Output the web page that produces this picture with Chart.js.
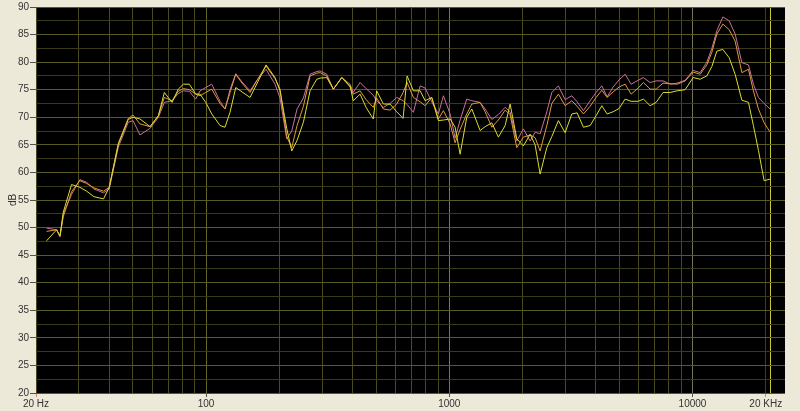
<!DOCTYPE html>
<html lang="en">

<head>
    <meta charset="UTF-8">
    <title>Frequency Response</title>
    <style>
        html, body {
            margin: 0;
            padding: 0;
            background: #ece9d8;
        }
        canvas {
            display: block;
        }
    </style>
    <script src="https://cdn.jsdelivr.net/npm/chart.js"></script>
</head>

<body>
    <canvas id="chart" width="800" height="411"></canvas>
</body>
<script>
    // measurement frequencies (Hz)
    const freqs = [
        22.1, 24.3, 25.1, 25.9, 28.0, 30.3, 32.3, 34.6, 37.9, 40.0,
        43.6, 47.9, 50.1, 53.5, 58.9, 63.7, 67.4, 72.5, 76.9, 80.7,
        85.4, 90.7, 94.5, 99.7, 105.6, 114.2, 119.7, 125.5, 132.5, 140.6,
        151.7, 163.6, 176.5, 192.2, 201.5, 214.6, 225.1, 236.7, 251.4, 267.8,
        285.3, 294.4, 313.6, 333.8, 361.4, 391, 403, 430, 455, 487,
        503, 536, 571, 608, 646, 671, 712, 759, 796, 847,
        902, 946, 1008, 1057, 1108, 1180, 1238, 1339, 1404, 1496,
        1592, 1697, 1779, 1895, 2017, 2150, 2254, 2363, 2518, 2640,
        2810, 2994, 3190, 3354, 3560, 3794, 4016, 4238, 4456, 4716,
        4993, 5284, 5593, 5975, 6283, 6694, 7087, 7571, 8092, 8645,
        9326, 10058, 10748, 11452, 12008, 12590, 13326, 14146, 14972, 15952,
        16984, 17794, 18666, 19698, 20852
    ];

    const yellowDb = [
        47.6, 49.6, 48.5, 52.8, 57.8, 57.3, 56.6, 55.6, 55.2, 57.3,
        65.1, 69.6, 70.0, 69.7, 68.3, 70.3, 74.5, 72.7, 75.1, 76.0,
        76.0, 74.2, 74.2, 72.7, 70.6, 68.5, 68.2, 70.9, 75.4, 74.6,
        73.6, 76.5, 79.5, 77.2, 74.8, 68.0, 63.9, 65.8, 69.1, 74.8,
        76.9, 77.1, 77.2, 75.1, 77.2, 75.7, 73.0, 74.2, 71.8, 69.7,
        74.8, 72.4, 72.4, 71.0, 69.8, 77.5, 74.8, 74.8, 73.0, 73.6,
        69.4, 69.5, 69.7, 68.2, 63.3, 70.0, 71.5, 67.6, 68.3, 69.0,
        66.4, 68.5, 72.4, 66.1, 64.8, 66.9, 65.0, 59.7, 64.5, 66.5,
        69.4, 67.2, 70.6, 70.8, 68.2, 68.5, 70.3, 72.1, 70.6, 71.0,
        71.6, 73.3, 72.9, 72.9, 73.3, 72.1, 72.7, 74.5, 74.5, 74.8,
        75.0, 77.2, 76.9, 77.5, 79.2, 82.0, 82.3, 80.8, 77.8, 73.1,
        72.7, 68.5, 64.0, 58.5, 58.8
    ];

    const orangeDb = [
        49.3, 49.6, 48.5, 52.0, 56.5, 58.5, 58.0, 57.2, 56.6, 57.3,
        65.3, 69.8, 70.4, 68.8, 68.3, 70.3, 73.6, 73.0, 74.7, 75.2,
        75.0, 74.2, 73.9, 74.5, 75.1, 72.5, 71.5, 74.5, 77.8, 76.2,
        74.5, 77.0, 79.3, 77.0, 75.1, 66.5, 64.5, 68.5, 72.0, 77.5,
        78.0, 78.1, 77.5, 75.1, 77.2, 75.5, 74.2, 74.8, 73.2, 71.8,
        73.5, 71.5, 71.3, 72.4, 74.5, 76.3, 73.6, 72.8, 72.1, 73.6,
        69.7, 71.2, 68.8, 65.4, 67.8, 70.6, 72.4, 72.7, 71.0, 68.2,
        69.5, 71.3, 70.5, 64.5, 66.4, 66.8, 66.3, 63.9, 68.5, 72.5,
        74.2, 72.1, 73.0, 72.0, 70.6, 72.0, 73.6, 74.9, 73.6, 74.6,
        75.5, 76.0, 74.2, 75.3, 76.3, 75.1, 75.1, 76.2, 76.1, 76.0,
        76.6, 78.2, 77.8, 79.5, 81.8, 85.1, 86.9, 85.9, 83.8, 78.1,
        78.7, 74.8, 71.5, 69.0, 67.3
    ];

    const pinkDb = [
        49.9, 49.6, 48.3, 52.5, 56.0, 58.7, 58.2, 57.0, 56.3, 57.0,
        64.6, 69.1, 69.4, 66.8, 68.0, 70.0, 72.7, 73.0, 74.3, 74.8,
        74.7, 73.3, 74.8, 75.4, 76.0, 72.9, 71.5, 75.0, 77.9, 76.4,
        74.8, 77.0, 78.7, 76.0, 73.5, 66.1, 67.5, 71.5, 73.5, 77.8,
        78.3, 78.4, 77.8, 75.1, 77.2, 76.0, 74.5, 76.3, 75.2, 74.0,
        73.0, 71.8, 72.5, 73.6, 73.0, 72.3, 70.9, 75.7, 75.3, 72.8,
        70.6, 73.9, 70.6, 66.2, 69.5, 73.3, 73.0, 72.7, 71.5, 69.6,
        70.5, 71.8, 71.0, 65.7, 67.9, 65.7, 67.3, 67.0, 71.0, 74.5,
        75.7, 73.2, 73.9, 72.8, 71.2, 73.0, 74.5, 75.7, 73.7, 75.5,
        76.8, 77.8, 76.0, 76.7, 77.2, 76.3, 76.6, 76.6, 76.0, 76.2,
        76.7, 78.5, 78.1, 80.0, 82.5, 85.7, 88.2, 87.5, 85.1, 79.9,
        79.5, 76.0, 73.6, 72.5, 71.5
    ];

    // axis ticks / grid
    const xTicks = [20, 30, 40, 50, 60, 70, 80, 90,
        100, 200, 300, 400, 500, 600, 700, 800, 900,
        1000, 2000, 3000, 4000, 5000, 6000, 7000, 8000, 9000,
        10000, 20000, 20900];
    const xLabels = { 20: "20 Hz", 100: "100", 1000: "1000", 10000: "10000", 20000: "20 KHz" };
    const yMin = 20, yMax = 90, yStep = 2.5;

    function toPoints(values) {
        return freqs.map((f, i) => ({ x: f, y: values[i] }));
    }

    function xGridColor(v) {
        if (v === 20900) return "#c8c832";
        if (v === 1000 || v === 10000) return "#74745c";
        if (v === 100) return "#66662a";
        if (v === 20000) return "#3e3e18";
        return "#4a4a1e";
    }

    const backdrop = {
        id: "backdrop",
        beforeDraw(chart) {
            const c = chart.ctx;
            const a = chart.chartArea;
            c.save();
            c.fillStyle = "#ece9d8";
            c.fillRect(0, 0, chart.width, chart.height);
            c.fillStyle = "#000000";
            c.fillRect(a.left, a.top, a.right - a.left, a.bottom - a.top);
            c.restore();
        }
    };

    const font = { family: "'Liberation Sans', Arial, sans-serif", size: 10 };

    const ctx = document.getElementById("chart");

    const chart = new Chart(ctx, {
        type: "line",
        data: {
            datasets: [
                { label: "yellow", data: toPoints(yellowDb), borderColor: "#dcdc30" },
                { label: "orange", data: toPoints(orangeDb), borderColor: "#e09a3c" },
                { label: "pink", data: toPoints(pinkDb), borderColor: "#c8709c" }
            ]
        },
        options: {
            responsive: false,
            animation: false,
            devicePixelRatio: 1,
            layout: { padding: { top: 6, right: 15, left: 0, bottom: 0 } },
            elements: {
                line: { borderWidth: 1, tension: 0 },
                point: { radius: 0 }
            },
            plugins: {
                legend: { display: false },
                tooltip: { enabled: false }
            },
            scales: {
                x: {
                    type: "logarithmic",
                    min: 20,
                    max: 24000,
                    afterBuildTicks(scale) {
                        scale.ticks = xTicks.map(v => ({ value: v }));
                    },
                    afterFit(scale) {
                        scale.height = 18;
                    },
                    border: { display: false },
                    grid: {
                        color: c => xGridColor(c.tick.value),
                        tickColor: c => {
                            const v = c.tick.value;
                            if (v === 20 || v === 20000) return "#e08080";
                            return xLabels[v] ? "#505050" : "rgba(0,0,0,0)";
                        },
                        tickLength: 4,
                        lineWidth: 1
                    },
                    ticks: {
                        autoSkip: false,
                        maxRotation: 0,
                        padding: 1,
                        color: "#333333",
                        font: font,
                        callback: v => xLabels[v] || ""
                    }
                },
                y: {
                    min: yMin,
                    max: yMax,
                    afterFit(scale) {
                        scale.width = 36;
                    },
                    border: { display: false },
                    title: {
                        display: true,
                        text: "dB",
                        color: "#333333",
                        font: font,
                        padding: { top: 7, bottom: 0 }
                    },
                    grid: {
                        color: c => (c.tick.value % 5 === 0 ? "#5a5a24" : "#3a3a18"),
                        tickColor: c => (c.tick.value % 5 === 0 ? "#505050" : "rgba(0,0,0,0)"),
                        tickLength: 6,
                        lineWidth: 1
                    },
                    ticks: {
                        stepSize: yStep,
                        autoSkip: false,
                        padding: 1,
                        color: "#333333",
                        font: font,
                        callback: v => (v % 5 === 0 ? String(v) : "")
                    }
                }
            }
        },
        plugins: [backdrop]
    });
</script>

</html>
